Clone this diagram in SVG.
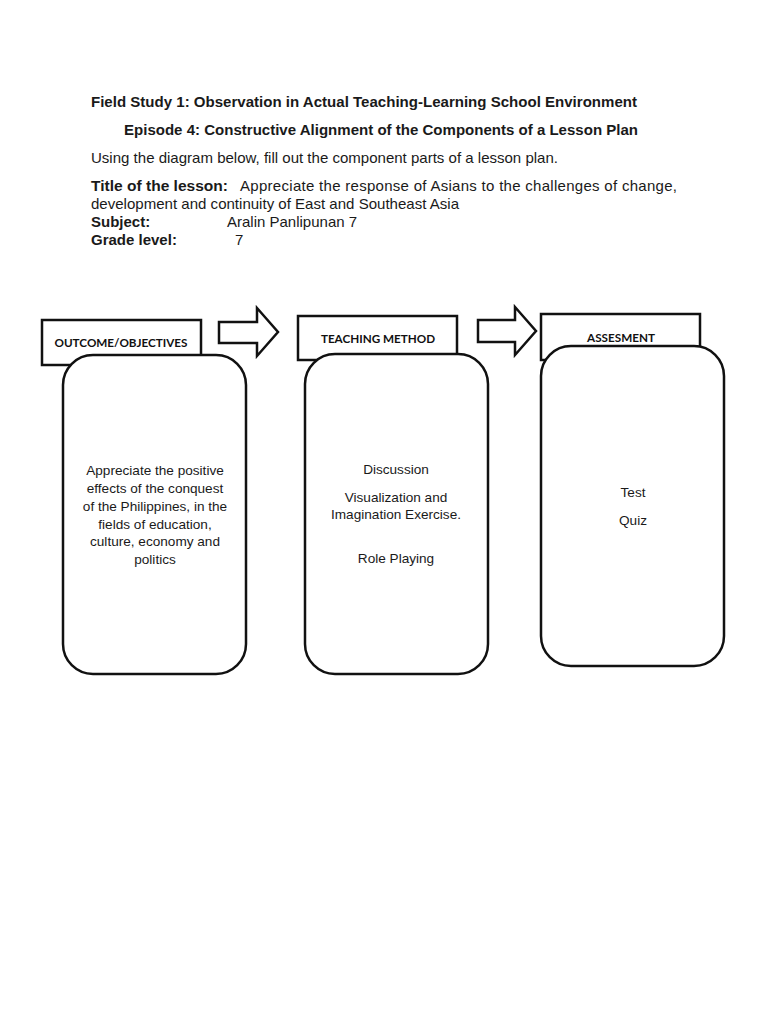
<svg xmlns="http://www.w3.org/2000/svg" width="768" height="1024" viewBox="0 0 768 1024">
<style>
.t{font-family:"Liberation Sans",Arial,sans-serif;fill:#1a1a1a;font-size:15px}
.b{font-weight:bold}
.h{font-family:Lato,"Open Sans",sans-serif;font-weight:bold;font-size:11.7px;fill:#111;text-anchor:middle}
.c{font-family:"Liberation Sans",Arial,sans-serif;font-size:13.6px;fill:#1a1a1a;text-anchor:middle}
.box{fill:#fff;stroke:#111;stroke-width:2.5}
.arr{fill:#fff;stroke:#111;stroke-width:2.5;stroke-linejoin:miter}
</style>
<rect width="768" height="1024" fill="#fff"/>
<g id="header">
<text class="t b" x="91" y="107" textLength="546" lengthAdjust="spacingAndGlyphs">Field Study 1: Observation in Actual Teaching-Learning School Environment</text>
<text class="t b" x="124" y="135" textLength="514" lengthAdjust="spacingAndGlyphs">Episode 4: Constructive Alignment of the Components of a Lesson Plan</text>
<text class="t" x="91" y="163" textLength="467" lengthAdjust="spacingAndGlyphs">Using the diagram below, fill out the component parts of a lesson plan.</text>
<text class="t b" x="91" y="191" textLength="137" lengthAdjust="spacingAndGlyphs">Title of the lesson:</text>
<text class="t" x="240" y="191" textLength="437" lengthAdjust="spacing">Appreciate the response of Asians to the challenges of change,</text>
<text class="t" x="91" y="209" textLength="368" lengthAdjust="spacingAndGlyphs">development and continuity of East and Southeast Asia</text>
<text class="t b" x="91" y="227">Subject:</text>
<text class="t" x="227" y="227">Aralin Panlipunan 7</text>
<text class="t b" x="91" y="245">Grade level:</text>
<text class="t" x="235" y="245">7</text>
</g>
<g id="connectors">
<path class="arr" d="M219,322 H257 V308 L278,332 L257,356 V343 H219 Z"/>
<path class="arr" d="M478,320 H515 V307 L536,331 L515,355 V342 H478 Z"/>
</g>
<g id="node-objectives">
<rect class="box" x="42" y="320" width="159" height="45"/>
<text class="h" x="121" y="347">OUTCOME/OBJECTIVES</text>
<rect class="box" x="63" y="355" width="183" height="319" rx="30"/>
<text class="c" x="155" y="475">Appreciate the positive</text>
<text class="c" x="155" y="493">effects of the conquest</text>
<text class="c" x="155" y="511">of the Philippines, in the</text>
<text class="c" x="155" y="529">fields of education,</text>
<text class="c" x="155" y="546">culture, economy and</text>
<text class="c" x="155" y="564">politics</text>
</g>
<g id="node-method">
<rect class="box" x="298" y="316" width="159" height="44"/>
<text class="h" x="378" y="343">TEACHING METHOD</text>
<rect class="box" x="305" y="354" width="183" height="320" rx="30"/>
<text class="c" x="396" y="474">Discussion</text>
<text class="c" x="396" y="502">Visualization and</text>
<text class="c" x="396" y="519">Imagination Exercise.</text>
<text class="c" x="396" y="563">Role Playing</text>
</g>
<g id="node-assessment">
<rect class="box" x="541" y="314" width="159" height="46"/>
<text class="h" x="621" y="342">ASSESMENT</text>
<rect class="box" x="541" y="346" width="183" height="320" rx="30"/>
<text class="c" x="633" y="497">Test</text>
<text class="c" x="633" y="525">Quiz</text>
</g>
</svg>
